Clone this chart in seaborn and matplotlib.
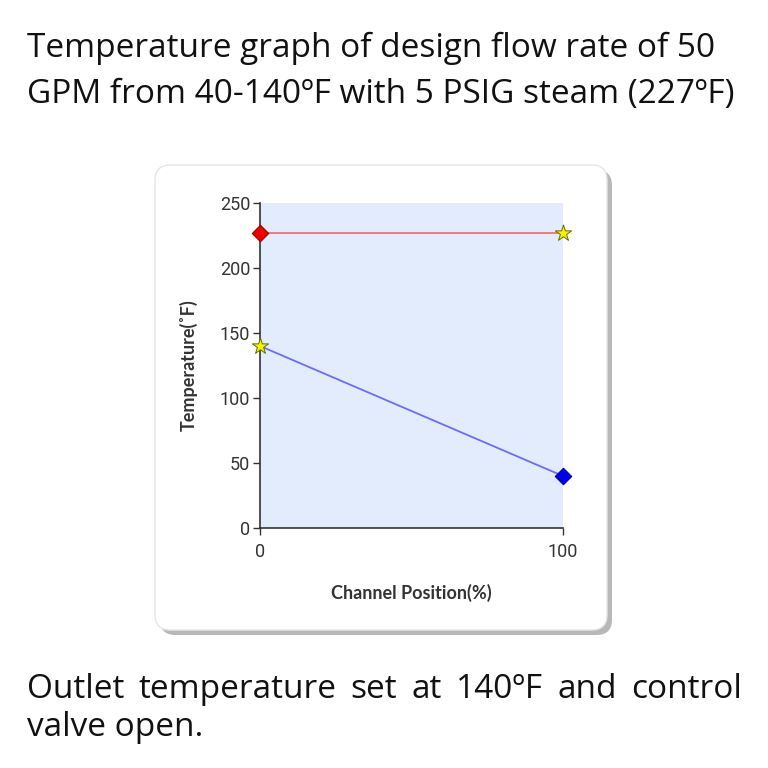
import matplotlib
matplotlib.use("Agg")
import matplotlib.pyplot as plt
import seaborn as sns
import pandas as pd
from matplotlib.patches import FancyBboxPatch

# ---- data ----
positions = [0, 100]
steam_temp = [227, 227]
water_temp = [140, 40]
y_ticks = [0, 50, 100, 150, 200, 250]
x_ticks = [0, 100]
title_lines = ["Temperature graph of design flow rate of 50",
               "GPM from 40-140ºF with 5 PSIG steam (227ºF)"]
footer_line1 = "Outlet temperature set at 140ºF and control"
footer_line2 = "valve open."
x_label = "Channel Position(%)"
y_label = "Temperature(˚F)"

sns.set_theme(style="white")
plt.rcParams['font.family'] = ['Open Sans', 'DejaVu Sans']

fig = plt.figure(figsize=(7.68, 7.68), dpi=100)
fig.patch.set_facecolor("white")

# rounded panel with shadow
W, H = 768.0, 768.0
px0, py0, px1, py1 = 155, 165, 607, 630
shadow = FancyBboxPatch(((px0 + 5) / W, 1 - (py1 + 5) / H), (px1 - px0) / W, (py1 - py0) / H,
                        boxstyle="round,pad=0,rounding_size=0.02", transform=fig.transFigure,
                        facecolor="#b8b8b8", edgecolor="none", zorder=0)
panel = FancyBboxPatch((px0 / W, 1 - py1 / H), (px1 - px0) / W, (py1 - py0) / H,
                       boxstyle="round,pad=0,rounding_size=0.02", transform=fig.transFigure,
                       facecolor="white", edgecolor="#e6e6e6", linewidth=1, zorder=0.5)
fig.patches.extend([shadow, panel])

ax = fig.add_axes([260 / W, 1 - 528 / H, (563 - 260) / W, (528 - 203) / H])
ax.set_facecolor("#e3ecfc")
ax.set_zorder(2)

df = pd.DataFrame({
    "pos": positions + positions,
    "temp": steam_temp + water_temp,
    "series": ["steam"] * 2 + ["water"] * 2,
})
sns.lineplot(data=df, x="pos", y="temp", hue="series",
             palette={"steam": "#ff6b6b", "water": "#6b6bff"},
             linewidth=1.3, legend=False, ax=ax)

# markers
sns.scatterplot(x=[positions[0]], y=[steam_temp[0]], marker="D", s=70, color="#ee0000",
                edgecolor="#990000", linewidth=0.8, ax=ax, zorder=5, clip_on=False)
sns.scatterplot(x=[positions[1]], y=[water_temp[1]], marker="D", s=70, color="#0000ee",
                edgecolor="#000099", linewidth=0.8, ax=ax, zorder=5, clip_on=False)
sns.scatterplot(x=[positions[1], positions[0]], y=[steam_temp[1], water_temp[0]], marker="*",
                s=150, color="#f4f400", edgecolor="#6a6a00", linewidth=0.7, ax=ax, zorder=6,
                clip_on=False)

ax.set_xlim(0, 100)
ax.set_ylim(0, 250)
ax.set_xticks(x_ticks)
ax.set_yticks(y_ticks)
tick_font = ['Roboto', 'DejaVu Sans']
for lab in ax.get_xticklabels() + ax.get_yticklabels():
    lab.set_family(tick_font)
    lab.set_fontsize(13)
    lab.set_color("#333333")
ax.tick_params(axis="both", which="both", direction="out", length=5, width=1,
               color="#333333", left=True, bottom=True, pad=2)
ax.tick_params(axis="x", pad=6)
for s in ["top", "right"]:
    ax.spines[s].set_visible(False)
for s in ["left", "bottom"]:
    ax.spines[s].set_color("#333333")
    ax.spines[s].set_linewidth(1.2)

ax.set_xlabel(x_label, fontsize=13, fontweight="bold", color="#333333",
              family=['Lato', 'DejaVu Sans'], labelpad=16)
ax.set_ylabel(y_label, fontsize=13, fontweight="bold", color="#333333",
              family=['Lato', 'DejaVu Sans'], labelpad=16)

# titles
fig.text(27 / W, 1 - 48 / H, title_lines[0], fontsize=24, color="#111111", va="center", ha="left")
fig.text(27 / W, 1 - 95 / H, title_lines[1], fontsize=24, color="#111111", va="center", ha="left")

# justified footer line 1
fig.canvas.draw()
renderer = fig.canvas.get_renderer()
words = footer_line1.split(" ")
left_px, right_px = 27, 742
texts = []
widths = []
for w in words:
    t = fig.text(0, 1 - 690 / H, w, fontsize=24, color="#111111", va="center", ha="left")
    texts.append(t)
    widths.append(t.get_window_extent(renderer).width)
gap = (right_px - left_px - sum(widths)) / (len(words) - 1)
x = left_px
for t, wd in zip(texts, widths):
    t.set_x(x / W)
    x += wd + gap
fig.text(27 / W, 1 - 728 / H, footer_line2, fontsize=24, color="#111111", va="center", ha="left")

fig.savefig("out.png", dpi=100)
